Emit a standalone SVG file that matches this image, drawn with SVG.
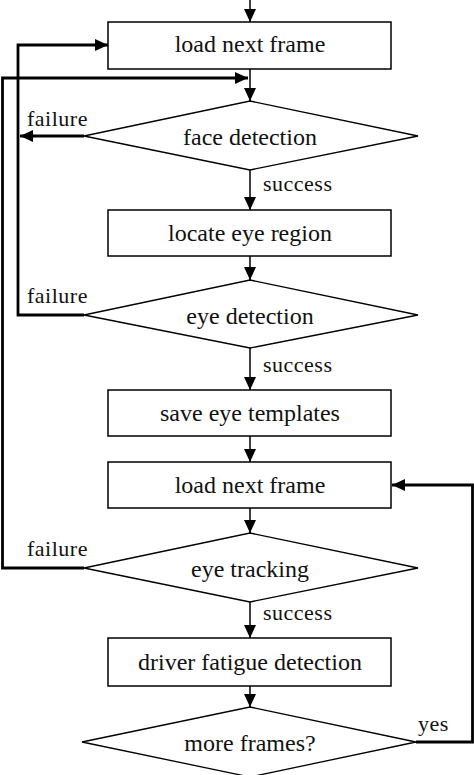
<svg xmlns="http://www.w3.org/2000/svg" width="474" height="775" viewBox="0 0 474 775">
<style>
.box{fill:#fff;stroke:#000;stroke-width:1.5}
.dia{fill:#fff;stroke:#000;stroke-width:1.3}
.t{font-family:"Liberation Serif",serif;font-size:24px;text-anchor:middle;fill:#111}
.l{font-family:"Liberation Serif",serif;font-size:22px;letter-spacing:0.5px;fill:#111}
.thin{fill:none;stroke:#000;stroke-width:1.5}
.thick{fill:none;stroke:#000;stroke-width:2.8}
</style>
<defs>
<marker id="b" markerWidth="13" markerHeight="12" refX="13" refY="6" orient="auto" markerUnits="userSpaceOnUse" viewBox="0 0 13 12"><path d="M0,0 L13,6 L0,12 Z" fill="#000"/></marker>
</defs>
<g id="connectors">
<path class="thin" d="M250,0 V22" marker-end="url(#b)"/>
<path class="thin" d="M250,69 V101" marker-end="url(#b)"/>
<path class="thin" d="M250,170 V210" marker-end="url(#b)"/>
<path class="thin" d="M250,256 V280" marker-end="url(#b)"/>
<path class="thin" d="M250,348 V390" marker-end="url(#b)"/>
<path class="thin" d="M250,436 V462" marker-end="url(#b)"/>
<path class="thin" d="M250,508 V533" marker-end="url(#b)"/>
<path class="thin" d="M250,602 V638" marker-end="url(#b)"/>
<path class="thin" d="M250,686 V707" marker-end="url(#b)"/>
<path class="thick" d="M84,136 H20" marker-end="url(#b)"/>
<path class="thick" d="M84,315 H18 V45 H108" marker-end="url(#b)"/>
<path class="thick" d="M84,568 H2.5 V78 H248" marker-end="url(#b)"/>
<path class="thick" d="M416,742 H472.5 V485 H392" marker-end="url(#b)"/>
<text class="l" x="27" y="126">failure</text>
<text class="l" x="263" y="191">success</text>
<text class="l" x="27" y="303">failure</text>
<text class="l" x="263" y="372">success</text>
<text class="l" x="27" y="556">failure</text>
<text class="l" x="263" y="620">success</text>
<text class="l" x="418" y="731">yes</text>
</g>
<g id="n1"><rect class="box" x="108" y="22" width="283" height="47"/><text class="t" x="250" y="52">load next frame</text></g>
<g id="n2"><polygon class="dia" points="250,101 418,136 250,170 84,136"/><text class="t" x="250" y="145">face detection</text></g>
<g id="n3"><rect class="box" x="108" y="210" width="283" height="46"/><text class="t" x="250" y="241">locate eye region</text></g>
<g id="n4"><polygon class="dia" points="250,280 418,315 250,348 84,315"/><text class="t" x="250" y="324">eye detection</text></g>
<g id="n5"><rect class="box" x="108" y="390" width="283" height="46"/><text class="t" x="250" y="421">save eye templates</text></g>
<g id="n6"><rect class="box" x="108" y="462" width="283" height="46"/><text class="t" x="250" y="493">load next frame</text></g>
<g id="n7"><polygon class="dia" points="250,533 418,568 250,602 84,568"/><text class="t" x="250" y="577">eye tracking</text></g>
<g id="n8"><rect class="box" x="108" y="638" width="283" height="48"/><text class="t" x="250" y="670">driver fatigue detection</text></g>
<g id="n9"><polygon class="dia" points="250,707 416,742 250,777 82,742"/><text class="t" x="250" y="751">more frames?</text></g>
</svg>
